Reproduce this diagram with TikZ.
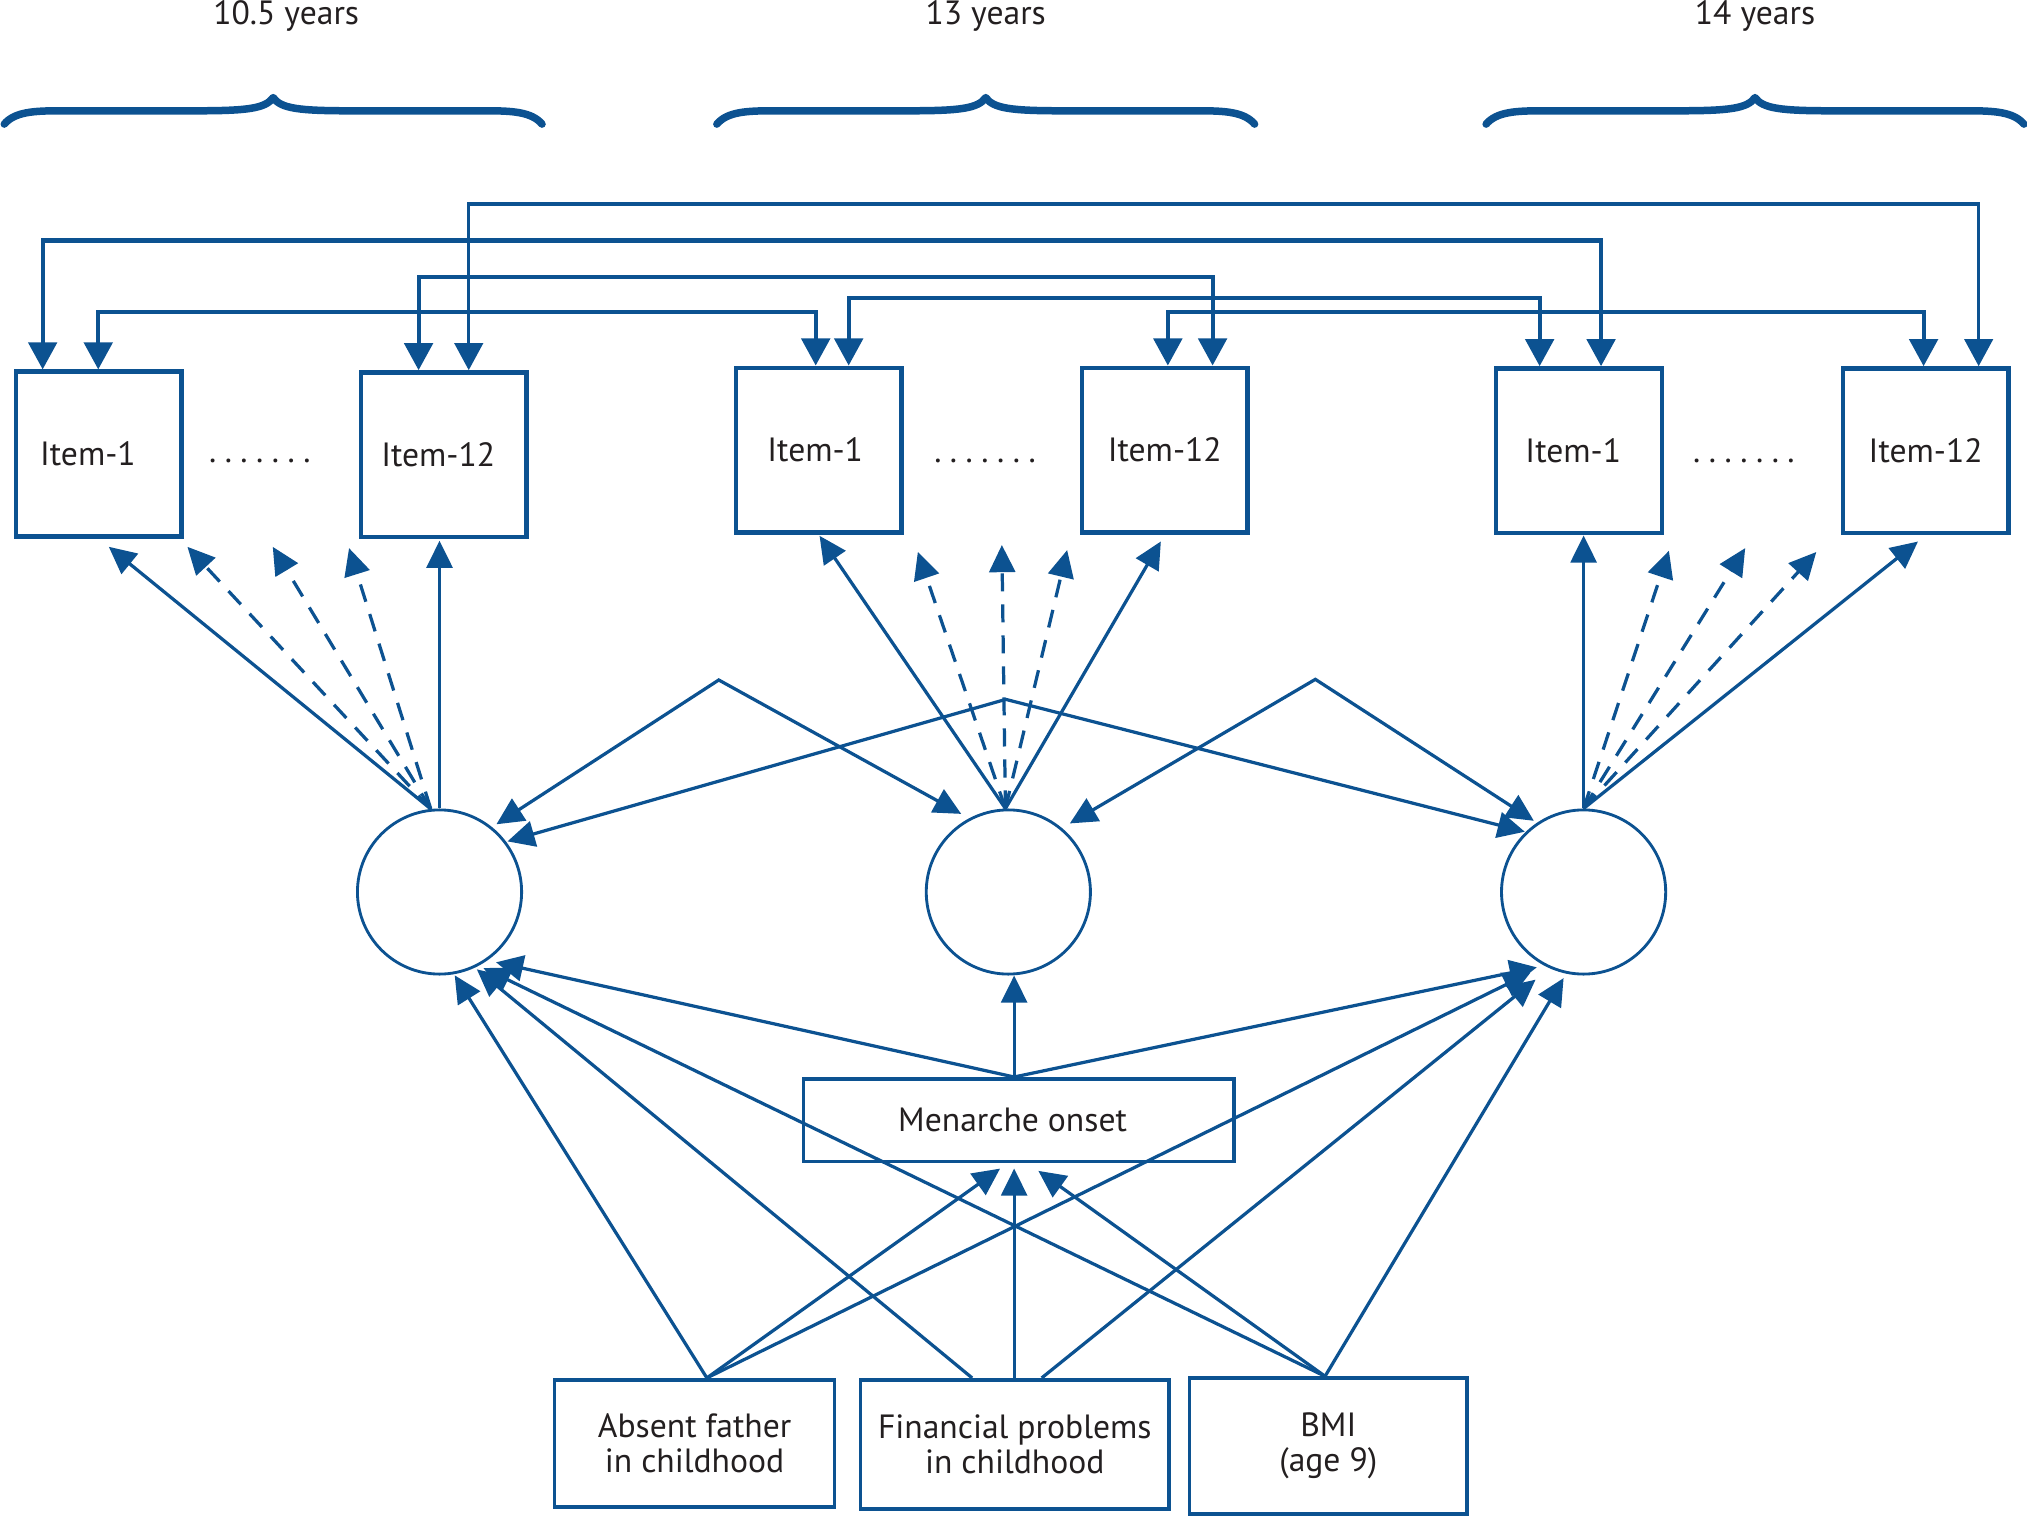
\documentclass[tikz,border=0pt]{standalone}
\usepackage{fontspec}
\setmainfont{PT Sans}
\usetikzlibrary{arrows.meta}
\definecolor{fig}{RGB}{12,82,145}
\definecolor{txt}{RGB}{35,31,32}
\newcommand\mydots{.\kern3.3pt.\kern3.3pt.\kern3.3pt.\kern3.3pt.\kern3.3pt.\kern3.3pt.}
\begin{document}
\begin{tikzpicture}[x=0.5pt,y=-0.5pt,
  every node/.style={font=\fontsize{13}{13.7}\selectfont, text=txt},
  itembox/.style={draw=fig, line width=1.7pt, minimum width=64pt, minimum height=63.75pt, inner sep=0pt},
  lowbox/.style={draw=fig, line width=1.4pt, inner sep=0pt, align=center},
  latent/.style={circle, draw=fig, line width=1.1pt, minimum size=63.5pt, inner sep=0pt},
  arr/.style={draw=fig, line width=1.25pt, -{Triangle[length=10.5pt,width=10pt]}},
  biarr/.style={draw=fig, line width=1.25pt, {Triangle[length=10.5pt,width=10pt]}-{Triangle[length=10.5pt,width=10pt]}},
  darr/.style={arr, dash pattern=on 7pt off 5pt},
  topc/.style={draw=fig, line width=1.6pt, {Triangle[length=10.5pt,width=11pt]}-{Triangle[length=10.5pt,width=11pt]}},
  bracestroke/.style={draw=fig, line width=2.9pt, line cap=round, line join=round},
  ybrace/.pic={\draw[bracestroke] (-208,96) .. controls (-200,86.5) and (-185,85.7) .. (-165,85.7) -- (-60,85.7) .. controls (-20,85.7) and (-6,84) .. (0,75.5) .. controls (6,84) and (20,85.7) .. (60,85.7) -- (165,85.7) .. controls (185,85.7) and (200,86.5) .. (208,96);}
]
\useasboundingbox (0,0) rectangle (1568,1174);

% age labels and braces
\node[anchor=base] (y1) at (221.4,18.6) {10.5 years};
\node[anchor=base] (y2) at (762.5,18.6) {13 years};
\node[anchor=base] (y3) at (1357.6,18.6) {14 years};
\pic at (211.3,0) {ybrace};
\pic at (762.5,0) {ybrace};
\pic at (1357.6,0) {ybrace};

% item boxes
\node[itembox] (L1) at (76.4,351.2) {Item-1\kern8.4pt};
\node[itembox] (L12) at (343.3,351.8) {Item-12\kern4.3pt};
\node[itembox] (M1) at (633.4,348.2) {Item-1\kern2.8pt};
\node[itembox] (M12) at (901,348.2) {Item-12};
\node[itembox] (R1) at (1221.4,348.7) {Item-1\kern4.4pt};
\node[itembox] (R12) at (1489.6,348.7) {Item-12};
\node[anchor=base] (dotsL) at (201,357.8) {\mydots};
\node[anchor=base] (dotsM) at (762,357.8) {\mydots};
\node[anchor=base] (dotsR) at (1349,357.8) {\mydots};

% latent factors
\node[latent] (Lc) at (340,690) {};
\node[latent] (Mc) at (780,690) {};
\node[latent] (Rc) at (1225,690) {};

% lower boxes
\node[lowbox, minimum width=166.5pt, minimum height=32pt] (Men) at (788,866.5) {Menarche onset\kern4.7pt};
\node[lowbox, minimum width=108.3pt, minimum height=49.2pt] (Abs) at (537.3,1116.5) {Absent father\\in childhood};
\node[lowbox, minimum width=119.3pt, minimum height=50pt] (Fin) at (785,1117.3) {Financial problems\\in childhood};
\node[lowbox, minimum width=107.5pt, minimum height=52.5pt] (BMI) at (1027.5,1118.5) {BMI\\(age 9)};

% top connectors between repeated items
\draw[topc] (L1.north -| 33,0) -- (33,186) -- (1238.5,186) -- (R1.north -| 1238.5,0);
\draw[topc] (L1.north -| 76,0) -- (76,241.5) -- (631,241.5) -- (M1.north -| 631,0);
\draw[topc] (M1.north -| 656.5,0) -- (656.5,230.3) -- (1191,230.3) -- (R1.north -| 1191,0);
\draw[topc] (L12.north -| 323.8,0) -- (323.8,214) -- (938,214) -- (M12.north -| 938,0);
\draw[topc, line width=1.3pt] (L12.north -| 362.6,0) -- (362.6,157.8) -- (1530.6,157.8) -- (R12.north -| 1530.6,0);
\draw[topc] (M12.north -| 903.4,0) -- (903.4,241.5) -- (1488,241.5) -- (R12.north -| 1488,0);

% loadings
\coordinate (dL1) at (145,423);
\coordinate (dL2) at (211,423);
\coordinate (dL3) at (270,424);
\coordinate (dM1) at (710,427);
\coordinate (dM2) at (775,421.6);
\coordinate (dM3) at (825.5,425.5);
\coordinate (dR1) at (1291,426);
\coordinate (dR2) at (1350,424);
\coordinate (dR3) at (1405,427);

\draw[arr, shorten >=5pt] (Lc.96) -- (L1.south);
\draw[darr] (Lc.96) -- (dL1);
\draw[darr] (Lc.96) -- (dL2);
\draw[darr] (Lc.96) -- (dL3);
\draw[arr, shorten >=0.5pt] (Lc.north) -- (Lc.north |- L12.south);

\draw[arr, shorten >=0.5pt] (Mc.92) -- (M1.south);
\draw[darr] (Mc.92) -- (dM1);
\draw[darr] (Mc.92) -- (dM2);
\draw[darr] (Mc.92) -- (dM3);
\draw[arr, shorten >=3pt] (Mc.92) -- (M12.south);

\draw[arr] (Rc.north) -- (Rc.north |- R1.south);
\draw[darr] (Rc.north) -- (dR1);
\draw[darr] (Rc.north) -- (dR2);
\draw[darr] (Rc.north) -- (dR3);
\draw[arr, shorten >=3.8pt] (Rc.north) -- (R12.south);

% paths between latent factors
\coordinate (pA) at (556,526);
\coordinate (pB) at (778,541);
\coordinate (pC) at (1017.5,525.5);
\draw[biarr, shorten <=2pt, shorten >=3.5pt] (Lc.51) -- (pA) -- (Mc.118.4);
\draw[biarr, shorten <=0.5pt, shorten >=0.3pt] (Lc.37.6) -- (pB) -- (Rc.134.2);
\draw[biarr, shorten <=3.5pt, shorten >=1.4pt] (Mc.50.1) -- (pC) -- (Rc.124);

% menarche
\draw[arr] (Men.north -| 784.5,0) -- (Mc.south -| 784.5,0);
\draw[arr, shorten >=3.4pt] (Men.north -| 784.5,0) -- (Lc.-55.9);
\draw[arr, shorten >=3pt] (Men.north -| 784.5,0) -- (Rc.-118.6);

% covariates
\draw[arr, shorten >=0.5pt] (Abs.north -| 546.8,0) -- (Lc.-80.5);
\draw[arr, shorten >=3.5pt] (Abs.north -| 546.8,0) -- (Men.south -| 779.3,0);
\draw[arr, shorten >=6pt] (Abs.north -| 546.8,0) -- (Rc.-118.9);
\draw[arr, shorten >=1pt] (Fin.north -| 752,0) -- (Lc.-65.6);
\draw[arr, shorten >=2pt] (Fin.north -| 784.5,0) -- (Men.south -| 784.5,0);
\draw[arr, shorten >=7pt] (Fin.north -| 805.8,0) -- (Rc.-114.9);
\draw[arr, shorten >=2pt] (BMI.north -| 1025,0) -- (Lc.-62.6);
\draw[arr, shorten >=5pt] (BMI.north -| 1025,0) -- (Men.south -| 795.1,0);
\draw[arr, shorten >=2pt] (BMI.north -| 1025,0) -- (Rc.-102.7);
\end{tikzpicture}
\end{document}
